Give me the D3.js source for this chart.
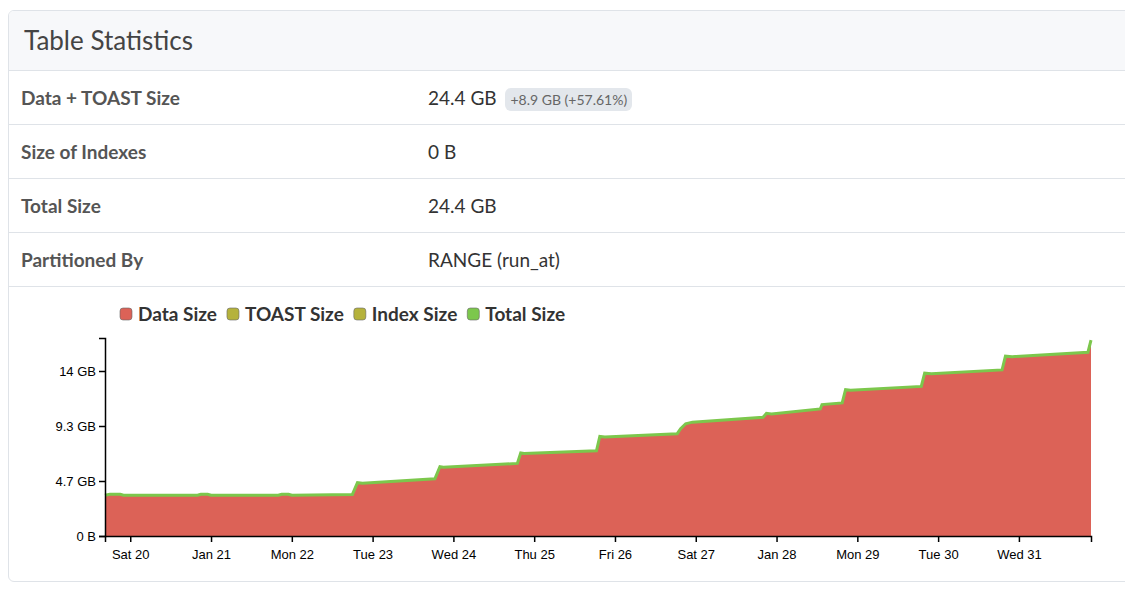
<!DOCTYPE html>
<html><head><meta charset="utf-8">
<script src="https://cdn.jsdelivr.net/npm/d3@7"></script>
<style>
body{margin:0;background:#fff;font-family:Lato,"Open Sans",sans-serif;}
.panel{position:absolute;left:8px;top:10px;width:1130px;height:570px;border:1px solid #dfe3e8;border-radius:6px;overflow:hidden;}
.hdr{height:59px;background:#f7f8fa;border-bottom:1px solid #dfe3e8;font-size:26px;color:#444;line-height:59px;padding-left:15px;}
.row{height:53px;border-bottom:1px solid #dfe3e8;position:relative;font-size:19px;line-height:53px;}
.row .k{position:absolute;left:12px;font-weight:700;color:#555;}
.row .v{position:absolute;left:419px;color:#333;}
.badge{font-size:14px;color:#666;background:#e3e7ec;border-radius:6px;padding:3px 5px;margin-left:4px;}
svg{position:absolute;left:0;top:0;}
</style></head><body>
<div class="panel"><div class="hdr">Table Statistics</div><div id="rows"></div></div>
<svg id="c" width="1125" height="609"></svg>
<script>
const rowLabels=["Data + TOAST Size","Size of Indexes","Total Size","Partitioned By"];
const rowValues=["24.4 GB","0 B","24.4 GB","RANGE (run_at)"];
const legendNames=["Data Size","TOAST Size","Index Size","Total Size"];
const legendColors=["#dc6257","#b5b23c","#b5b23c","#7cc74c"];
const times=["2024-01-19T16:30","2024-01-19T18:00","2024-01-19T21:00","2024-01-19T22:00",
"2024-01-20T20:00","2024-01-20T21:00","2024-01-20T23:00","2024-01-21T00:00",
"2024-01-21T20:00","2024-01-21T21:00","2024-01-21T23:00","2024-01-22T00:00",
"2024-01-22T18:00","2024-01-22T19:30","2024-01-22T21:00",
"2024-01-23T18:30","2024-01-23T20:00","2024-01-23T21:00",
"2024-01-24T19:00","2024-01-24T20:00","2024-01-24T21:00",
"2024-01-25T18:30","2024-01-25T19:30","2024-01-25T21:00",
"2024-01-26T18:30","2024-01-26T19:30","2024-01-26T21:00","2024-01-26T23:00",
"2024-01-27T20:00","2024-01-27T21:00","2024-01-27T22:30",
"2024-01-28T13:00","2024-01-28T13:30","2024-01-28T19:30","2024-01-28T20:30","2024-01-28T22:00",
"2024-01-29T19:00","2024-01-29T20:00","2024-01-29T22:00",
"2024-01-30T19:00","2024-01-30T20:00","2024-01-30T22:00",
"2024-01-31T20:30","2024-01-31T21:25"];
const sizesGB=[3.70,3.80,3.80,3.70, 3.70,3.80,3.80,3.70, 3.70,3.80,3.80,3.70,
3.78,4.85,4.80, 5.20,6.30,6.25, 6.60,7.55,7.50, 7.75,9.05,9.00,
9.30,9.75,10.20,10.35, 10.80,11.15,11.10, 11.55,11.95,12.10,13.30,13.25,
13.60,14.80,14.75, 15.10,16.35,16.30, 16.70,17.80];
const yTicks=[0,5e9,10e9,15e9];

const rows=d3.select("#rows").selectAll("div").data(rowLabels).join("div").attr("class","row");
rows.append("span").attr("class","k").text(d=>d);
rows.append("span").attr("class","v").html((d,i)=>i===0?rowValues[i]+' <span class="badge">+8.9 GB (+57.61%)</span>':rowValues[i]);

const svg=d3.select("#c");
const parse=d3.timeParse("%Y-%m-%dT%H:%M");
const data=times.map((t,i)=>({t:parse(t),v:sizesGB[i]*1e9}));
const x=d3.scaleTime().domain(d3.extent(data,d=>d.t)).range([105,1091]);
const y=d3.scaleLinear().domain([0,18e9]).range([536,338]);
const fmt=v=>{if(v===0)return "0 B";const g=v/2**30;return (g>=10?d3.format(".0f")(g):d3.format(".1f")(g))+" GB";};

svg.append("path").datum(data).attr("fill","#dc6257")
 .attr("d",d3.area().x(d=>x(d.t)).y0(y(0)).y1(d=>y(d.v)));
svg.append("path").datum(data).attr("fill","none").attr("stroke","#7cc74c").attr("stroke-width",3)
 .attr("d",d3.line().x(d=>x(d.t)).y(d=>y(d.v)));

const gx=svg.append("g").attr("transform","translate(0,536)").call(d3.axisBottom(x).ticks(d3.timeDay.every(1)).tickSizeOuter(6));
const gy=svg.append("g").attr("transform","translate(105,0)").call(d3.axisLeft(y).tickValues(yTicks).tickFormat(fmt).tickSizeOuter(6));
[gx,gy].forEach(g=>{g.selectAll("text").attr("font-family","Liberation Sans, Arial").attr("font-size",13).attr("fill","#000");
 g.selectAll("path,line").attr("stroke","#000").attr("stroke-width",1.5);});
gx.selectAll("text").attr("dy","1.1em");

const lg=svg.append("g").attr("transform","translate(120,314)");
let lx=0;
legendNames.forEach((n,i)=>{
 const g=lg.append("g").attr("transform",`translate(${lx},0)`);
 g.append("rect").attr("x",0).attr("y",-6).attr("width",12).attr("height",12).attr("rx",3)
  .attr("fill",legendColors[i]).attr("stroke","#666").attr("stroke-width",0.6);
 const t=g.append("text").attr("x",18).attr("y",7).attr("font-family","Lato").attr("font-weight",700)
  .attr("font-size",19).attr("fill","#333").text(n);
 lx+=t.node().getComputedTextLength()+28;
});
</script></body></html>
